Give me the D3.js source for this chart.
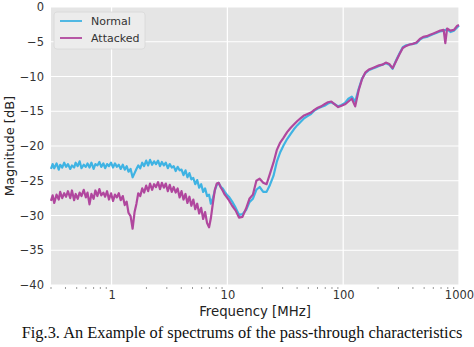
<!DOCTYPE html>
<html><head><meta charset="utf-8">
<script src="https://cdn.jsdelivr.net/npm/d3@7/dist/d3.min.js"></script>
<style>body{margin:0;background:#fff}svg{display:block}</style>
</head><body><svg id="c" width="474" height="347"></svg>
<script>
const freqMHz = [0.30,0.31,0.32,0.335,0.35,0.36,0.375,0.39,0.405,0.42,0.44,0.455,0.475,0.49,0.51,0.53,0.55,0.575,0.60,0.62,0.645,0.67,0.70,0.725,0.755,0.785,0.815,0.85,0.88,0.915,0.95,0.99,1.03,1.07,1.11,1.155,1.2,1.25,1.3,1.35,1.4,1.46,1.52,1.58,1.64,1.7,1.77,1.84,1.91,1.99,2.07,2.15,2.24,2.33,2.42,2.52,2.62,2.72,2.83,2.94,3.06,3.18,3.31,3.44,3.58,3.72,3.87,4.02,4.18,4.35,4.52,4.7,4.89,5.08,5.28,5.49,5.71,5.94,6.18,6.42,6.68,6.95,7.2,7.5,7.8,8.1,8.4,8.8,9.1,9.5,9.9,
10.3,11,11.8,12.6,13.5,14.5,15.5,16.6,17.8,19,20.4,21.8,23.3,25,26.7,28.6,30.6,32.8,35.1,37.5,40.2,43,46,49.2,52.7,56.4,60.3,64.5,69,73.9,79,84.6,90.5,96.8,103.6,110.9,118.7,127,135.9,145.4,155.6,166.5,178.1,190.6,204,218,233.5,250,267,286,306,327,350,375,401,429,459,491,526,563,602,644,689,737,762,789,844,903,966,1000];

const normalDb = [-23.3,-22.6,-23.2,-22.5,-23.4,-22.7,-23.1,-22.4,-23.0,-22.6,-23.3,-22.8,-23.1,-22.4,-22.9,-22.2,-23.2,-22.7,-23.0,-22.5,-23.1,-22.4,-23.3,-22.6,-22.8,-22.3,-23.0,-22.5,-23.2,-22.6,-22.9,-22.4,-23.1,-22.5,-23.0,-22.7,-23.3,-22.7,-23.4,-22.9,-23.7,-23.3,-24.5,-23.9,-23.3,-22.8,-23.2,-22.4,-22.9,-22.1,-22.8,-22.0,-22.7,-22.2,-22.6,-22.1,-22.9,-22.3,-22.8,-22.4,-23.2,-22.6,-23.1,-22.9,-23.6,-23.0,-23.5,-23.4,-24.2,-23.5,-24.5,-23.9,-24.8,-24.6,-25.5,-24.9,-26.0,-25.5,-26.6,-26.1,-27.2,-27.0,-28.3,-27.5,-26.4,-25.6,-25.3,-25.9,-26.1,-26.6,-27.0,
-27.3,-28.0,-28.9,-29.9,-29.8,-29.2,-28.1,-27.6,-26.3,-25.9,-26.6,-26.6,-25.6,-24.3,-22.3,-20.9,-19.9,-19.0,-18.3,-17.6,-17.0,-16.5,-16.0,-15.7,-15.4,-14.9,-14.6,-14.4,-14.2,-13.9,-13.7,-14.0,-14.3,-14.1,-13.8,-13.2,-12.9,-13.6,-11.8,-10.3,-9.5,-9.1,-8.9,-8.7,-8.5,-8.3,-8.1,-8.3,-8.9,-7.7,-6.7,-5.8,-5.5,-5.4,-5.3,-5.2,-4.7,-4.4,-4.3,-4.1,-3.9,-3.7,-3.5,-3.4,-3.3,-3.2,-3.6,-3.4,-2.9,-2.7];

const attackedDb = [-27.9,-27.1,-28.2,-27.0,-27.7,-26.6,-27.5,-26.8,-27.3,-26.5,-27.5,-26.4,-27.8,-26.9,-27.6,-26.7,-27.2,-26.3,-27.4,-26.7,-28.4,-26.9,-27.6,-26.4,-27.2,-26.2,-27.1,-26.7,-27.3,-26.5,-27.7,-26.8,-27.9,-27.0,-27.4,-26.8,-27.8,-27.2,-28.5,-28.0,-29.6,-30.1,-31.9,-29.5,-28.3,-26.8,-27.2,-26.1,-26.7,-25.7,-26.5,-25.4,-26.3,-25.5,-25.9,-25.2,-26.2,-25.3,-26.0,-25.4,-26.5,-25.6,-26.6,-25.9,-26.7,-26.1,-27.4,-26.5,-27.7,-26.9,-28.2,-27.3,-28.6,-27.7,-29.1,-28.3,-29.7,-28.9,-30.5,-29.5,-31.1,-31.7,-30.4,-28.2,-26.3,-25.4,-25.3,-26.0,-26.4,-27.0,-27.4,
-27.8,-28.6,-29.3,-30.3,-30.2,-29.0,-27.6,-27.0,-25.0,-24.7,-25.3,-25.5,-24.0,-22.4,-20.6,-19.5,-18.8,-18.0,-17.4,-16.9,-16.4,-16.0,-15.6,-15.4,-15.2,-14.8,-14.5,-14.3,-14.0,-13.7,-13.6,-14.0,-14.4,-14.2,-14.0,-13.6,-13.2,-14.3,-12.0,-10.4,-9.4,-9.0,-8.8,-8.6,-8.4,-8.3,-8.0,-8.2,-8.8,-7.8,-6.8,-5.9,-5.6,-5.4,-5.3,-5.1,-4.6,-4.3,-4.2,-4.0,-3.8,-3.6,-3.4,-3.3,-5.2,-3.1,-3.4,-3.3,-2.7,-2.6];

const seriesNames = ["Normal","Attacked"];
const seriesColors = ["#3fb3e3","#b0479e"];
const xTickValues = [1,10,100,1000];
const yTickValues = [0,-5,-10,-15,-20,-25,-30,-35,-40];

const svg = d3.select("#c");
const m = {l:51, r:15, t:7, b:62};
const W = 474, H = 347;
const pw = W - m.l - m.r, ph = H - m.t - m.b;
const x = d3.scaleLog().domain([0.3,1000]).range([m.l, m.l+pw]);
const y = d3.scaleLinear().domain([-40,0]).range([m.t+ph, m.t]);

svg.append("rect").attr("x",m.l).attr("y",m.t).attr("width",pw).attr("height",ph).attr("fill","#e5e5e5");

const g = svg.append("g");
g.selectAll("line.gy").data(yTickValues).join("line")
  .attr("x1",m.l).attr("x2",m.l+pw).attr("y1",d=>y(d)).attr("y2",d=>y(d))
  .attr("stroke","#fff").attr("stroke-width",1.2);
g.selectAll("line.gx").data(xTickValues).join("line")
  .attr("y1",m.t).attr("y2",m.t+ph).attr("x1",d=>x(d)).attr("x2",d=>x(d))
  .attr("stroke","#fff").attr("stroke-width",1.2);

const minorTicks = [];
[0.1,1,10,100].forEach(dec=>{for(let k=2;k<=9;k++){const v=dec*k; if(v>=0.3&&v<=1000) minorTicks.push(v);}});

const xAxis = d3.axisBottom(x).tickValues(xTickValues).tickFormat(d3.format("d")).tickSize(0).tickPadding(6);
const xa = svg.append("g").attr("transform",`translate(0,${m.t+ph})`).call(xAxis);
xa.select(".domain").remove();
xa.selectAll("text").attr("font-family","DejaVu Sans").attr("font-size",11.5).attr("fill","#333");
svg.append("g").selectAll("line").data(minorTicks).join("line")
  .attr("x1",d=>x(d)).attr("x2",d=>x(d)).attr("y1",m.t+ph+2).attr("y2",m.t+ph+4)
  .attr("stroke","#999").attr("stroke-width",1);

const yAxis = d3.axisLeft(y).tickValues(yTickValues).tickFormat(d=>d<0?"\u2212"+Math.abs(d):d).tickSize(0).tickPadding(7);
const ya = svg.append("g").attr("transform",`translate(${m.l},0)`).call(yAxis);
ya.select(".domain").remove();
ya.selectAll("text").attr("font-family","DejaVu Sans").attr("font-size",11.5).attr("fill","#333");

const data = [normalDb, attackedDb];
const line = d3.line().x((d,i)=>x(freqMHz[i])).y(d=>y(d));
data.forEach((s,k)=>{
  svg.append("path").datum(s).attr("d",line).attr("fill","none")
    .attr("stroke",seriesColors[k]).attr("stroke-width",2.2).attr("stroke-linejoin","round");
});

// legend
const lg = svg.append("g");
lg.append("rect").attr("x",54).attr("y",12).attr("width",91).attr("height",37).attr("rx",3)
  .attr("fill","#ececec").attr("stroke","#d8d8d8").attr("stroke-width",0.8);
seriesNames.forEach((n,k)=>{
  const yy = 21 + k*17;
  lg.append("line").attr("x1",60).attr("x2",82).attr("y1",yy).attr("y2",yy)
    .attr("stroke",seriesColors[k]).attr("stroke-width",1.8);
  lg.append("text").attr("x",91).attr("y",yy+4).text(n)
    .attr("font-family","DejaVu Sans").attr("font-size",11).attr("fill","#333");
});

svg.append("text").attr("x",255).attr("y",316).attr("text-anchor","middle")
  .attr("font-family","DejaVu Sans").attr("font-size",13.3).attr("fill","#222").text("Frequency [MHz]");
svg.append("text").attr("transform",`translate(14,${m.t+ph/2}) rotate(-90)`).attr("text-anchor","middle")
  .attr("font-family","DejaVu Sans").attr("font-size",13).attr("fill","#222").text("Magnitude [dB]");
svg.append("text").attr("x",242).attr("y",338).attr("text-anchor","middle")
  .attr("font-family","Liberation Serif").attr("font-size",16.4).attr("fill","#111")
  .text("Fig.3. An Example of spectrums of the pass-through characteristics");
</script></body></html>
